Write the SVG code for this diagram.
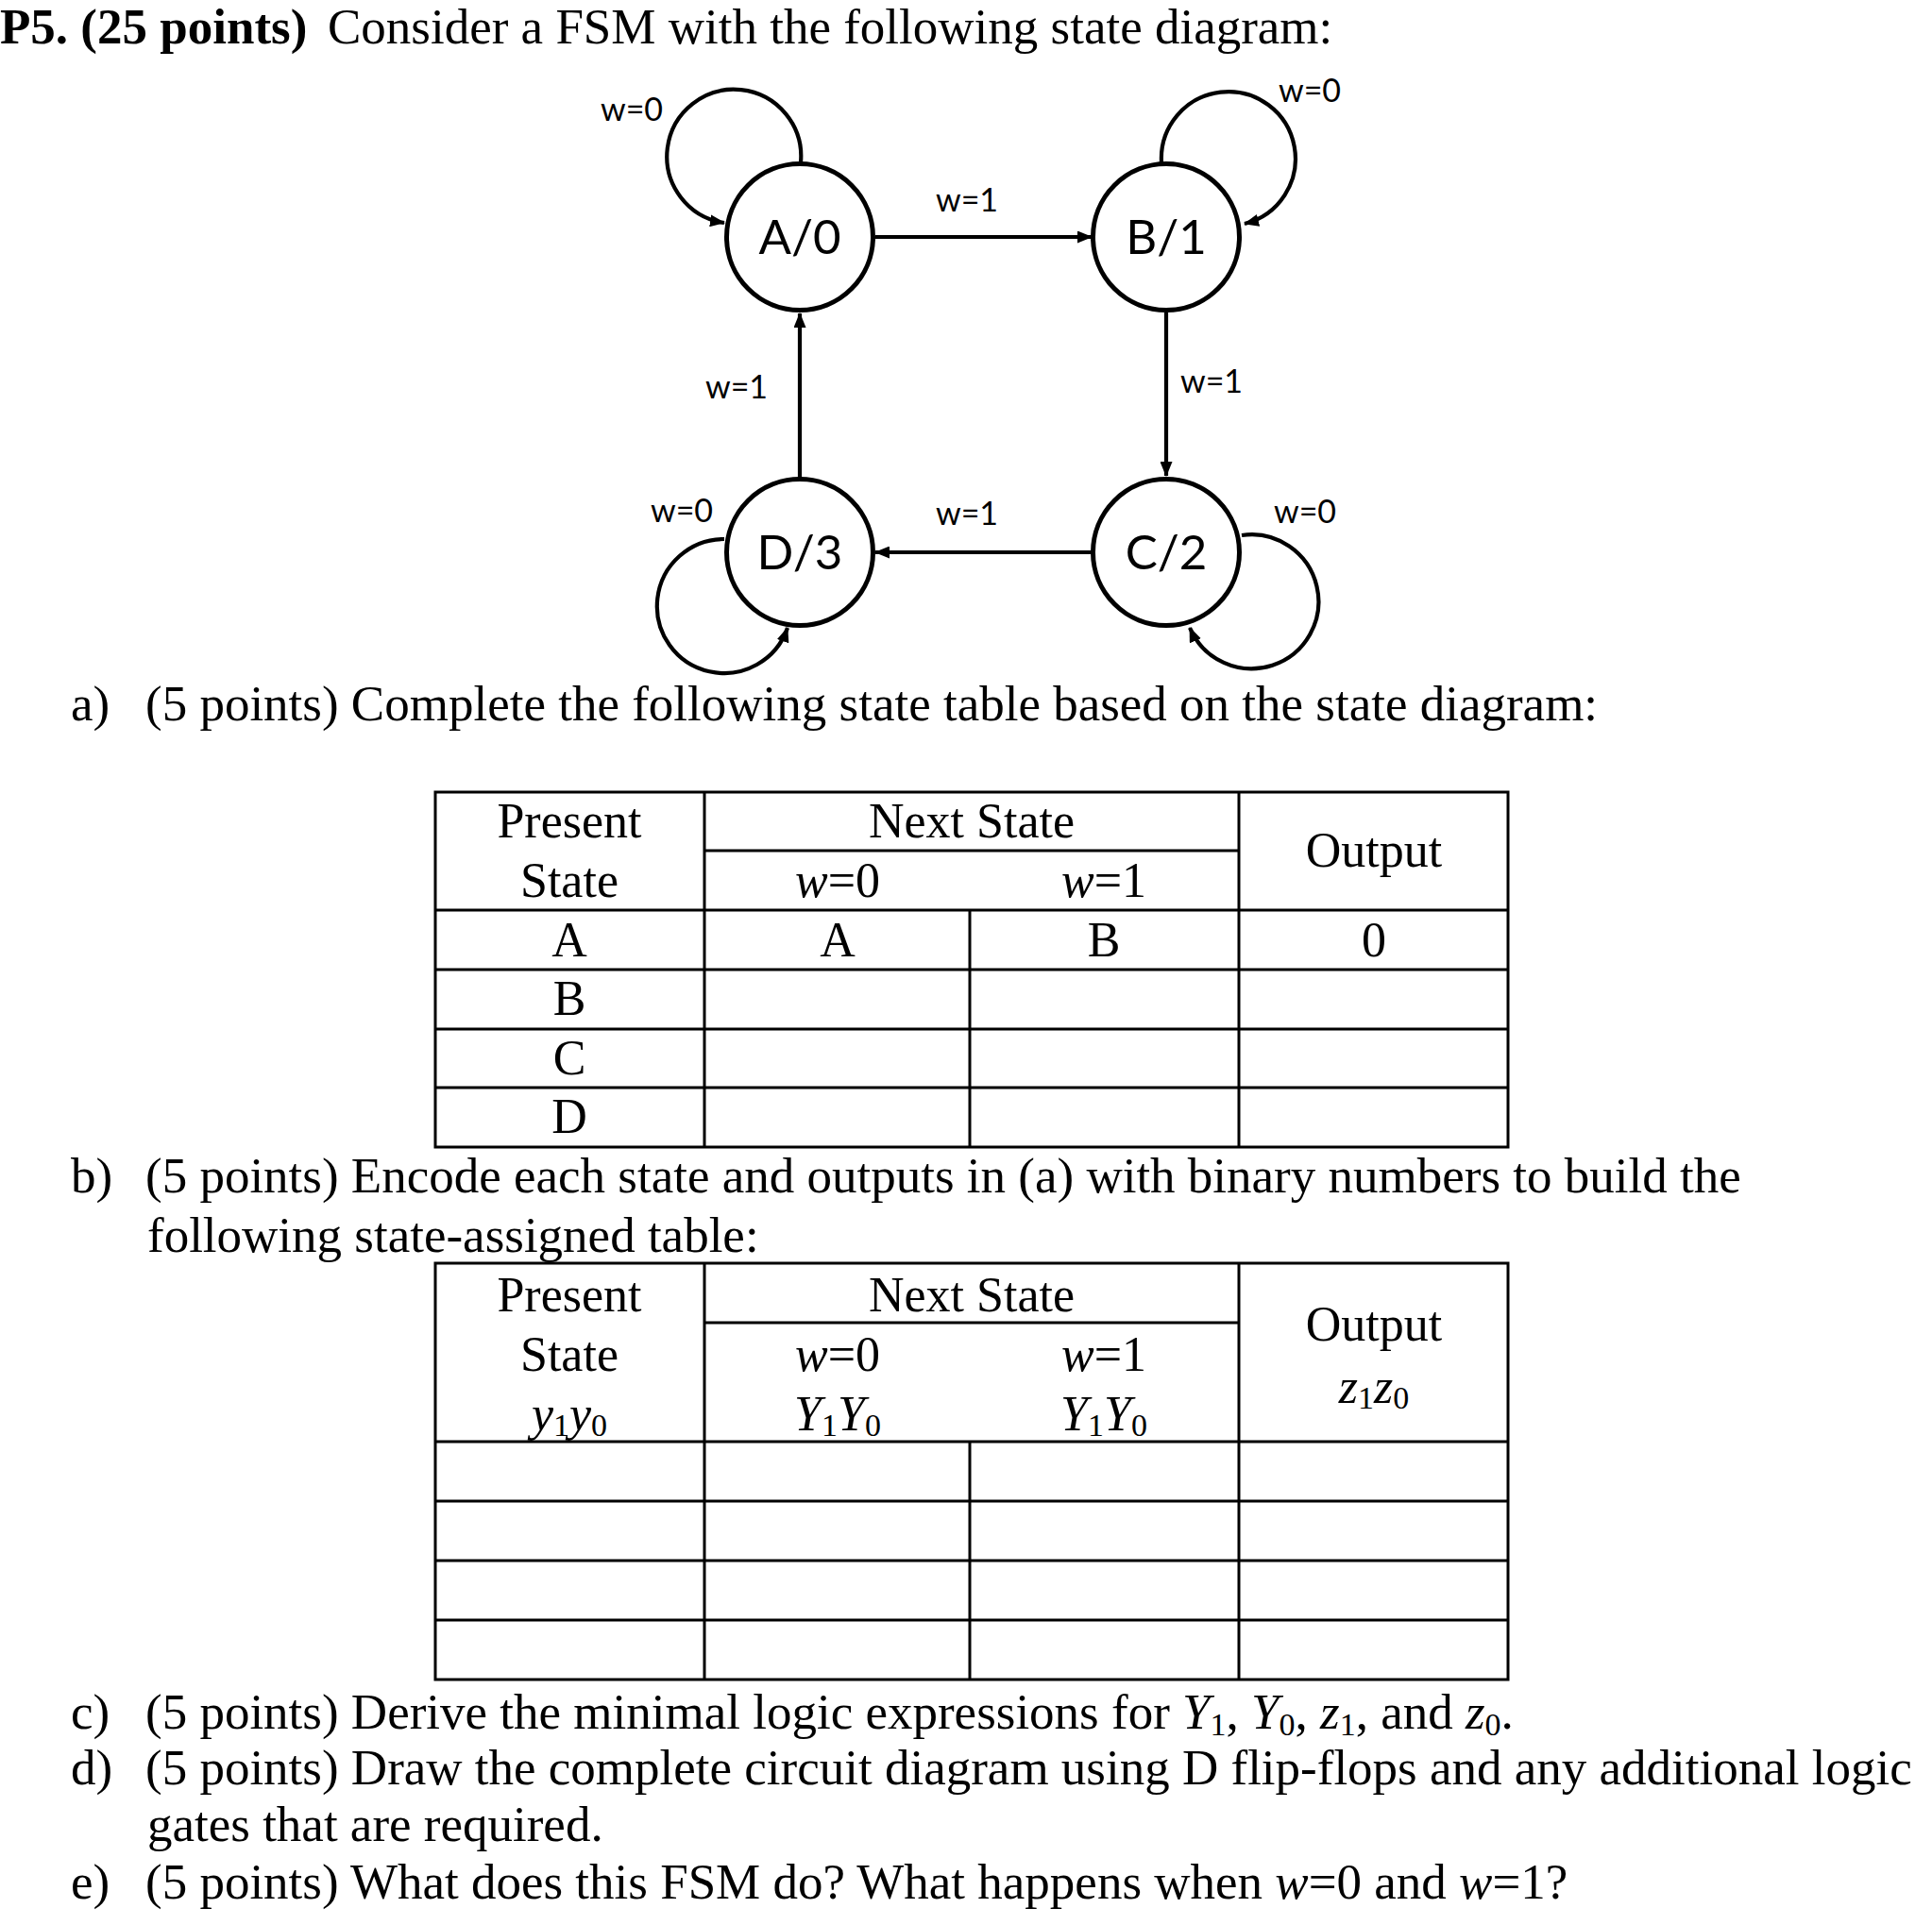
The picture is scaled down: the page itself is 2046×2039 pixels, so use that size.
<svg xmlns="http://www.w3.org/2000/svg" width="2046" height="2039" viewBox="0 0 2046 2039">
<style>
.t{font-family:"Liberation Serif","Times New Roman",serif;font-size:52px;fill:#000}
.p{font-size:53px}
.b{font-weight:bold}
.i{font-style:italic}
.sub{font-size:34px;font-style:normal}
.c{text-anchor:middle}
.lbl{font-family:Lato,"Open Sans","Liberation Sans",sans-serif;font-size:34px;fill:#000;text-anchor:middle}
.st{font-family:Lato,"Open Sans","Liberation Sans",sans-serif;font-size:51px;fill:#000;text-anchor:middle}
.node{fill:#fff;stroke:#000;stroke-width:5}
.edge{fill:none;stroke:#000;stroke-width:4.2}
.grid{fill:none;stroke:#000;stroke-width:3}
</style>
<defs>
<marker id="ah" viewBox="0 0 16 13" refX="15" refY="6.5" markerWidth="16" markerHeight="13" markerUnits="userSpaceOnUse" orient="auto">
<path d="M0,0 L16,6.5 L0,13 z" fill="#000"/>
</marker>
</defs>
<rect width="2046" height="2039" fill="#fff"/>

<text class="t p" y="46"><tspan class="b" x="0">P5. (25 points)</tspan><tspan x="347">Consider a FSM with the following state diagram:</tspan></text>

<g id="connectors">
<path class="edge" d="M927,251 L1156,251" marker-end="url(#ah)"/>
<path class="edge" d="M1235,331 L1235,504" marker-end="url(#ah)"/>
<path class="edge" d="M1156,585 L927,585" marker-end="url(#ah)"/>
<path class="edge" d="M847,506 L847,332" marker-end="url(#ah)"/>
<path class="edge" d="M848,172 A71,71 0 1 0 767,236" marker-end="url(#ah)"/>
<path class="edge" d="M1230,172 A71,71 0 1 1 1318,237" marker-end="url(#ah)"/>
<path class="edge" d="M1315,567 A71,71 0 1 1 1260,665" marker-end="url(#ah)"/>
<path class="edge" d="M767,571 A71,71 0 1 0 834,665" marker-end="url(#ah)"/>
<text class="lbl" x="1024" y="224">w=1</text>
<text class="lbl" x="1283" y="416">w=1</text>
<text class="lbl" x="1024" y="556">w=1</text>
<text class="lbl" x="780" y="422">w=1</text>
<text class="lbl" x="669" y="128">w=0</text>
<text class="lbl" x="1387" y="108">w=0</text>
<text class="lbl" x="1382" y="554">w=0</text>
<text class="lbl" x="722" y="553">w=0</text>
</g>

<g id="state-A"><circle class="node" cx="847" cy="251" r="77.5"/><text class="st" x="847" y="269">A/0</text></g>
<g id="state-B"><circle class="node" cx="1235" cy="251" r="77.5"/><text class="st" x="1235" y="269">B/1</text></g>
<g id="state-C"><circle class="node" cx="1235" cy="585" r="77.5"/><text class="st" x="1235" y="603">C/2</text></g>
<g id="state-D"><circle class="node" cx="847" cy="585" r="77.5"/><text class="st" x="847" y="603">D/3</text></g>

<text class="t p" y="763"><tspan x="75">a)</tspan><tspan x="154">(5 points) Complete the following state table based on the state diagram:</tspan></text>

<g id="table1">
<rect class="grid" x="461" y="839" width="1136" height="376"/>
<path class="grid" d="M746,839 V1215 M1312,839 V1215 M1027,964 V1215 M746,901 H1312 M461,964 H1597 M461,1027 H1597 M461,1090 H1597 M461,1152 H1597"/>
<text class="t c" x="603" y="887">Present</text>
<text class="t c" x="603" y="950">State</text>
<text class="t c" x="1029" y="887">Next State</text>
<text class="t c" x="887" y="950"><tspan class="i">w</tspan>=0</text>
<text class="t c" x="1169" y="950"><tspan class="i">w</tspan>=1</text>
<text class="t c" x="1455" y="918">Output</text>
<text class="t c" x="603" y="1013">A</text>
<text class="t c" x="887" y="1013">A</text>
<text class="t c" x="1169" y="1013">B</text>
<text class="t c" x="1455" y="1013">0</text>
<text class="t c" x="603" y="1075">B</text>
<text class="t c" x="603" y="1138">C</text>
<text class="t c" x="603" y="1200">D</text>
</g>

<text class="t p" y="1263"><tspan x="75">b)</tspan><tspan x="154">(5 points) Encode each state and outputs in (a) with binary numbers to build the</tspan></text>
<text class="t p" x="156" y="1326">following state-assigned table:</text>

<g id="table2">
<rect class="grid" x="461" y="1338" width="1136" height="441"/>
<path class="grid" d="M746,1338 V1779 M1312,1338 V1779 M1027,1527 V1779 M746,1401 H1312 M461,1527 H1597 M461,1590 H1597 M461,1653 H1597 M461,1716 H1597"/>
<text class="t c" x="603" y="1389">Present</text>
<text class="t c" x="603" y="1452">State</text>
<text class="t c" x="603" y="1515"><tspan class="i">y</tspan><tspan class="sub" dy="6">1</tspan><tspan class="i" dy="-6">y</tspan><tspan class="sub" dy="6">0</tspan></text>
<text class="t c" x="1029" y="1389">Next State</text>
<text class="t c" x="887" y="1452"><tspan class="i">w</tspan>=0</text>
<text class="t c" x="1169" y="1452"><tspan class="i">w</tspan>=1</text>
<text class="t c" x="887" y="1515"><tspan class="i">Y</tspan><tspan class="sub" dy="6">1</tspan><tspan class="i" dy="-6">Y</tspan><tspan class="sub" dy="6">0</tspan></text>
<text class="t c" x="1169" y="1515"><tspan class="i">Y</tspan><tspan class="sub" dy="6">1</tspan><tspan class="i" dy="-6">Y</tspan><tspan class="sub" dy="6">0</tspan></text>
<text class="t c" x="1455" y="1420">Output</text>
<text class="t c" x="1455" y="1486"><tspan class="i">z</tspan><tspan class="sub" dy="6">1</tspan><tspan class="i" dy="-6">z</tspan><tspan class="sub" dy="6">0</tspan></text>
</g>

<text class="t p" y="1831"><tspan x="75">c)</tspan><tspan x="154">(5 points) Derive the minimal logic expressions for </tspan><tspan class="i">Y</tspan><tspan class="sub" dy="7">1</tspan><tspan dy="-7">, </tspan><tspan class="i">Y</tspan><tspan class="sub" dy="7">0</tspan><tspan dy="-7">, </tspan><tspan class="i">z</tspan><tspan class="sub" dy="7">1</tspan><tspan dy="-7">, and </tspan><tspan class="i">z</tspan><tspan class="sub" dy="7">0</tspan><tspan dy="-7">.</tspan></text>
<text class="t p" y="1890"><tspan x="75">d)</tspan><tspan x="154">(5 points) Draw the complete circuit diagram using D flip-flops and any additional logic</tspan></text>
<text class="t p" x="156" y="1950">gates that are required.</text>
<text class="t p" y="2011"><tspan x="75">e)</tspan><tspan x="154">(5 points) What does this FSM do? What happens when </tspan><tspan class="i">w</tspan><tspan>=0 and </tspan><tspan class="i">w</tspan><tspan>=1?</tspan></text>
</svg>
